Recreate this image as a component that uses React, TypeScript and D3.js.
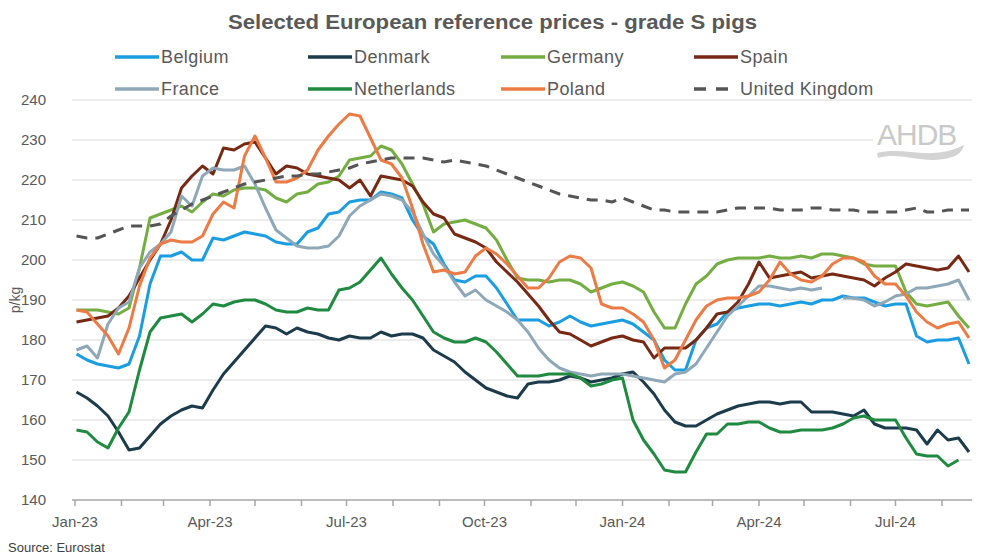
import { useRef, useEffect } from "react"
import * as d3 from "d3"

// Weekly reference prices, p/kg, first week commencing 2 Jan 2023
const belgium = [
  176.5, 175, 174, 173.5, 173, 174, 181, 194, 201, 201,
  202, 200, 200, 205.5, 205, 206, 207, 206.5, 206, 204.5,
  204, 204, 207, 208, 211.5, 212, 214.5, 215, 215, 217,
  216.5, 215.5, 210, 206, 204, 199, 195, 194.5, 196, 196,
  193, 189, 185, 185, 185, 183.5, 184.5, 186, 184.5, 183.5,
  184, 184.5, 185, 184, 182, 180, 175, 172.5, 172.5, 180,
  183, 184, 187, 188, 188.5, 189, 189, 188.5, 189, 189.5,
  189, 190, 190, 191, 190.5, 190.5, 189.5, 188.5, 189, 189,
  181, 179.5, 180, 180, 180.5, 174,
]
const denmark = [
  167, 165.5, 163.5, 161, 157, 152.5, 153, 156, 159, 161,
  162.5, 163.5, 163, 167.5, 171.5, 174.5, 177.5, 180.5, 183.5, 183,
  181.5, 183, 182, 181.5, 180.5, 180, 181, 180.5, 180.5, 182,
  181, 181.5, 181.5, 180.5, 177.5, 176, 174.5, 172, 170, 168,
  167, 166, 165.5, 169, 169.5, 169.5, 170, 171, 170.5, 169.5,
  170, 170.5, 171.5, 172, 169.5, 166.5, 162.5, 159.5, 158.5, 158.5,
  160, 161.5, 162.5, 163.5, 164, 164.5, 164.5, 164, 164.5, 164.5,
  162, 162, 162, 161.5, 161, 162.5, 159, 158, 158, 158,
  157.5, 154, 157.5, 155, 155.5, 152,
]
const germany = [
  187.5, 187.5, 187.5, 187, 186.5, 188, 198, 210.5, 211.5, 212.5,
  213.5, 212, 214.5, 216.5, 216, 217.5, 218, 218, 217.5, 215.5,
  214.5, 216.5, 217, 219, 219.5, 221, 225, 225.5, 226, 228.5,
  227.5, 224, 219, 214, 207, 209, 209.5, 210, 209, 208,
  205, 200, 195.5, 195, 195, 194.5, 195, 195, 194, 192,
  193, 194, 194.5, 193.5, 192, 187, 183, 183, 189, 194,
  196, 199, 200, 200.5, 200.5, 200.5, 201, 200.5, 200.5, 201,
  200.5, 201.5, 201.5, 201, 200.5, 199, 198.5, 198.5, 198.5, 192,
  189, 188.5, 189, 189.5, 186, 183,
]
const spain = [
  184.5, 185, 185.5, 186, 188, 191, 195.5, 200, 204, 210,
  218, 221, 223.5, 221.5, 228, 227.5, 229, 229.5, 225.5, 221.5,
  223.5, 223, 221.5, 221, 220.5, 220, 218, 220, 216, 221,
  220.5, 220, 218.5, 214.5, 211.5, 210.5, 206.5, 205.5, 204.5, 203,
  199.5, 197, 194.5, 191.5, 188.5, 185, 182, 181.5, 180, 178.5,
  179.5, 180.5, 181, 180, 179.5, 175.5, 178, 178, 178, 180,
  183, 186.5, 187, 189.5, 194, 199.5, 195.5, 196, 196.5, 197,
  195.5, 196, 196.5, 196, 195.5, 195, 193.5, 195.5, 197, 199,
  198.5, 198, 197.5, 198, 201, 197,
]
const france = [
  177.5, 178.5, 175.5, 184, 188, 189.5, 198, 202, 204, 207,
  216, 213.5, 221, 223, 222.5, 222.5, 223.5, 219, 213, 207.5,
  205.5, 203.5, 203, 203, 203.5, 206, 211, 213.5, 215, 216.5,
  216, 215, 212, 206.5, 201.5, 198.5, 194.5, 191, 192.5, 190,
  188.5, 187, 185, 182, 178, 175, 173, 172, 171.5, 171,
  171.5, 171.5, 171.5, 171, 170.5, 170, 169.5, 171.5, 172, 174,
  178, 182, 186, 188.5, 191, 193.5, 193.5, 193, 192.5, 193,
  192.5, 193, null, 190.5, 190.5, 190, 188.5, 189.5, 191, 191.5,
  193, 193, 193.5, 194, 195, 190,
]
const netherlands = [
  157.5, 157, 154.5, 153, 158, 162, 172.5, 182, 185.5, 186,
  186.5, 184.5, 186.5, 189, 188.5, 189.5, 190, 190, 189, 187.5,
  187, 187, 188, 187.5, 187.5, 192.5, 193, 194.5, 197.5, 200.5,
  196.5, 193, 190, 186, 182, 180.5, 179.5, 179.5, 180.5, 179.5,
  177, 174, 171, 171, 171, 171.5, 171.5, 171.5, 170.5, 168.5,
  169, 170, 170.5, 160, 155, 151.5, 147.5, 147, 147, 152,
  156.5, 156.5, 159, 159, 159.5, 159.5, 158, 157, 157, 157.5,
  157.5, 157.5, 158, 159, 160.5, 161, 160, 160, 160, 155.5,
  151.5, 151, 151, 148.5, 150, null,
]
const poland = [
  187.5, 187, 184, 181, 176.5, 183, 193.5, 200.5, 204, 205,
  204.5, 204.5, 206, 211.5, 214.5, 213, 226, 231, 225.5, 219.5,
  219.5, 220.5, 222.5, 227.5, 231, 234, 236.5, 236, 230.5, 225,
  224, 220.5, 213, 204, 197, 197.5, 196.5, 197, 201, 203,
  201.5, 199, 196, 193, 193, 195.5, 199.5, 201, 200.5, 198,
  189, 188, 188, 186.5, 184.5, 180, 173, 175, 180, 185,
  188.5, 190, 190.5, 190.5, 191, 192, 195, 199.5, 196.5, 195,
  194.5, 196, 199, 200.5, 200.5, 199.5, 196, 194, 194, 191,
  187, 184.5, 183, 184, 184.5, 180.5,
]
const unitedKingdom = [
  206, 205.5, 205.5, 206.5, 207.5, 208.5, 208.5, 208.5, 209, 211,
  212.5, 214, 215, 216, 217, 218, 219, 219.5, 220, 220.5,
  221, 221, 221.5, 221.5, 222, 222.5, 223, 224, 224.5, 225,
  225.5, 225.5, 225.5, 225.5, 225, 224.5, 225, 224.5, 224, 223.5,
  222.5, 221.5, 220.5, 219.5, 218.5, 217.5, 216.5, 216, 215.5, 215,
  215, 214.5, 215.5, 214.5, 213.5, 212.5, 212.5, 212, 212, 212,
  212, 212, 212.5, 213, 213, 213, 213, 212.5, 212.5, 212.5,
  213, 213, 212.5, 212.5, 212.5, 212, 212, 212, 212, 212.5,
  213, 212, 212, 212.5, 212.5, 212.5,
]

const yTicks = [140, 150, 160, 170, 180, 190, 200, 210, 220, 230, 240]

const series = [
  { name: "Belgium", values: belgium, colour: "#1b9de2", dashed: false },
  { name: "Denmark", values: denmark, colour: "#1c3b4b", dashed: false },
  { name: "Germany", values: germany, colour: "#74ae42", dashed: false },
  { name: "Spain", values: spain, colour: "#772914", dashed: false },
  { name: "France", values: france, colour: "#8ea8b8", dashed: false },
  { name: "Netherlands", values: netherlands, colour: "#1f8a40", dashed: false },
  { name: "Poland", values: poland, colour: "#ec7b45", dashed: false },
  { name: "United Kingdom", values: unitedKingdom, colour: "#555555", dashed: true },
]

const firstWeek = new Date(2023, 0, 2)
const weeks = belgium.map((_, i) => d3.timeDay.offset(firstWeek, 7 * i))

const FONT = "'Liberation Sans', Arial, sans-serif"
const TEXT = "#595959"

export default function App() {
  const svgRef = useRef<SVGSVGElement>(null)

  useEffect(() => {
    document.body.style.margin = "0"
    if (!svgRef.current) return

    const svg = d3.select(svgRef.current)
    svg.selectAll("*").remove()

    const x = d3
      .scaleTime()
      .domain([new Date(2023, 0, 1), new Date(2024, 7, 21)])
      .range([75, 972])
    const y = d3.scaleLinear().domain([140, 240]).range([500, 100])

    svg.append("rect").attr("width", 983).attr("height", 558).attr("fill", "white")

    // Title
    svg
      .append("text")
      .attr("x", 228)
      .attr("y", 29)
      .attr("font-family", FONT)
      .attr("font-weight", "bold")
      .attr("font-size", "19.5px")
      .attr("fill", TEXT)
      .attr("textLength", 529)
      .attr("lengthAdjust", "spacingAndGlyphs")
      .text("Selected European reference prices - grade S pigs")

    // Gridlines
    svg
      .append("g")
      .selectAll("line")
      .data(yTicks.filter((t) => t > 140))
      .join("line")
      .attr("x1", 72)
      .attr("x2", 972)
      .attr("y1", (d) => y(d))
      .attr("y2", (d) => y(d))
      .attr("stroke", "#d9d9d9")
      .attr("stroke-width", 1.2)

    // Y axis labels
    svg
      .append("g")
      .selectAll("text")
      .data(yTicks)
      .join("text")
      .attr("x", 46)
      .attr("y", (d) => y(d) + 5)
      .attr("text-anchor", "end")
      .attr("font-family", FONT)
      .attr("font-size", "15px")
      .attr("fill", TEXT)
      .text((d) => d)

    svg
      .append("text")
      .attr("transform", "translate(20, 300) rotate(-90)")
      .attr("text-anchor", "middle")
      .attr("font-family", FONT)
      .attr("font-size", "14px")
      .attr("fill", TEXT)
      .text("p/kg")

    // X axis: month ticks, labels every quarter
    const months = d3.timeMonth.range(new Date(2023, 0, 1), new Date(2024, 8, 1))
    const axis = svg.append("g")
    axis
      .append("line")
      .attr("x1", 72)
      .attr("x2", 972)
      .attr("y1", y(140))
      .attr("y2", y(140))
      .attr("stroke", "#a6a6a6")
      .attr("stroke-width", 1.5)
    axis
      .selectAll("line.tick")
      .data(months)
      .join("line")
      .attr("class", "tick")
      .attr("x1", (d) => x(d))
      .attr("x2", (d) => x(d))
      .attr("y1", y(140))
      .attr("y2", y(140) + 6)
      .attr("stroke", "#a6a6a6")
      .attr("stroke-width", 1.5)
    axis
      .selectAll("text")
      .data(months.filter((d) => d.getMonth() % 3 === 0))
      .join("text")
      .attr("x", (d) => x(d))
      .attr("y", 527)
      .attr("text-anchor", "middle")
      .attr("font-family", FONT)
      .attr("font-size", "15px")
      .attr("fill", TEXT)
      .text((d) => d3.timeFormat("%b-%y")(d))

    // AHDB logo sits on a white patch over the top gridline
    const logo = svg.append("g")
    logo.append("rect").attr("x", 873).attr("y", 114).attr("width", 100).attr("height", 50).attr("fill", "white")
    logo
      .append("text")
      .attr("x", 877)
      .attr("y", 145)
      .attr("font-family", FONT)
      .attr("font-size", "30px")
      .attr("fill", "#c9c9c9")
      .attr("letter-spacing", "-1px")
      .text("AHDB")
    logo
      .append("path")
      .attr("d", "M877,153 C905,146 930,162 964,145 C962,152 958,155 952,157 C925,166 902,151 878,158 Z")
      .attr("fill", "#d3d3d3")

    // Lines
    const line = d3
      .line<number | null>()
      .defined((d) => d !== null)
      .x((_, i) => x(weeks[i]))
      .y((d) => y(d as number))

    svg
      .append("g")
      .selectAll("path")
      .data(series)
      .join("path")
      .attr("d", (s) => line(s.values))
      .attr("fill", "none")
      .attr("stroke", (s) => s.colour)
      .attr("stroke-width", 3)
      .attr("stroke-linejoin", "round")
      .attr("stroke-dasharray", (s) => (s.dashed ? "11,8" : null))

    // Legend, four columns by two rows
    const legend = svg
      .append("g")
      .selectAll("g")
      .data(series)
      .join("g")
      .attr("transform", (_, i) => `translate(${115 + (i % 4) * 193}, ${i < 4 ? 57 : 89})`)
    legend
      .append("line")
      .attr("x1", 0)
      .attr("x2", (s) => (s.dashed ? 34 : 44))
      .attr("stroke", (s) => s.colour)
      .attr("stroke-width", 3.5)
      .attr("stroke-dasharray", (s) => (s.dashed ? "12,10" : null))
    legend
      .append("text")
      .attr("x", 46)
      .attr("y", 6)
      .attr("font-family", FONT)
      .attr("font-size", "18px")
      .attr("letter-spacing", "0.4px")
      .attr("fill", TEXT)
      .text((s) => s.name)

    svg
      .append("text")
      .attr("x", 8)
      .attr("y", 552)
      .attr("font-family", FONT)
      .attr("font-size", "13px")
      .attr("fill", "#404040")
      .text("Source: Eurostat")
  }, [])

  return <svg ref={svgRef} width={983} height={558} style={{ display: "block" }} />
}
